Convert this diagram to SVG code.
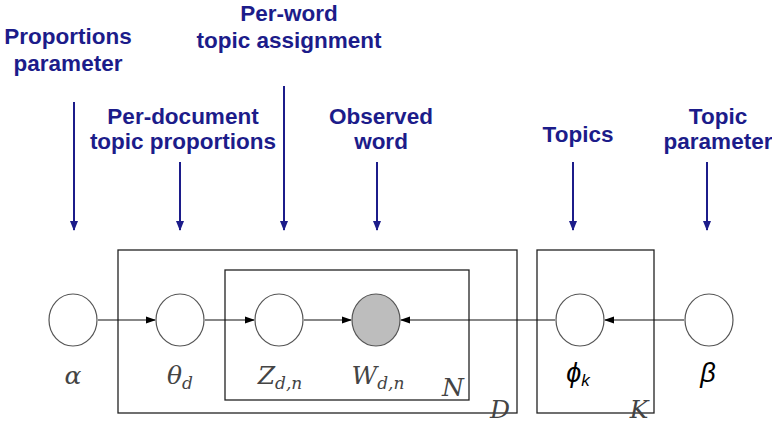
<svg xmlns="http://www.w3.org/2000/svg" width="772" height="446" viewBox="0 0 772 446">
<style>
.lab{font-family:"Liberation Sans",Arial,sans-serif;font-weight:bold;font-size:22.5px;fill:#1c1c8a;text-anchor:middle}
.ann{stroke:#1c1c8a;stroke-width:2;fill:none}
.node{fill:#fff;stroke:#555;stroke-width:1.2}
.obs{fill:#bdbdbd;stroke:#555;stroke-width:1.2}
.plate{fill:none;stroke:#222;stroke-width:1.3}
.edge{stroke:#111;stroke-width:1.2;fill:none}
.m{font-family:"DejaVu Serif","Liberation Serif",serif;font-style:italic;font-size:25px;fill:#444;text-anchor:middle}
.s{font-size:17px}
.g{font-family:"Liberation Sans",Arial,sans-serif;font-style:italic;font-size:27px;fill:#000;text-anchor:middle}
</style>
<defs>
<marker id="ab" markerWidth="10" markerHeight="10" refX="9" refY="5" orient="auto" markerUnits="userSpaceOnUse"><path d="M0,1 L10,5 L0,9 Z" fill="#1c1c8a"/></marker>
<marker id="ak" markerWidth="10" markerHeight="10" refX="9" refY="5" orient="auto" markerUnits="userSpaceOnUse"><path d="M0,1.5 L10,5 L0,8.5 Z" fill="#000"/></marker>
</defs>
<g id="annotations">
<text class="lab" x="68" y="44">Proportions</text><text class="lab" x="68" y="71">parameter</text>
<text class="lab" x="289" y="21">Per-word</text><text class="lab" x="289" y="48">topic assignment</text>
<text class="lab" x="183" y="124">Per-document</text><text class="lab" x="183" y="149">topic proportions</text>
<text class="lab" x="381" y="124">Observed</text><text class="lab" x="381" y="149">word</text>
<text class="lab" x="578" y="142">Topics</text>
<text class="lab" x="718" y="124">Topic</text><text class="lab" x="718" y="149">parameter</text>
<line class="ann" x1="74" y1="102" x2="74" y2="230" marker-end="url(#ab)"/>
<line class="ann" x1="180" y1="162" x2="180" y2="230" marker-end="url(#ab)"/>
<line class="ann" x1="284" y1="86" x2="284" y2="230" marker-end="url(#ab)"/>
<line class="ann" x1="377" y1="162" x2="377" y2="230" marker-end="url(#ab)"/>
<line class="ann" x1="573" y1="162" x2="573" y2="230" marker-end="url(#ab)"/>
<line class="ann" x1="707" y1="162" x2="707" y2="230" marker-end="url(#ab)"/>
</g>
<g id="plates">
<rect class="plate" x="118" y="250" width="399" height="163"/>
<rect class="plate" x="225" y="270" width="244" height="130"/>
<rect class="plate" x="537" y="250" width="117" height="163"/>
<text class="m" x="453" y="396">N</text>
<text class="m" x="500" y="418">D</text>
<text class="m" x="639" y="418">K</text>
</g>
<g id="connectors">
<line class="edge" x1="98" y1="320" x2="155" y2="320" marker-end="url(#ak)"/>
<line class="edge" x1="205" y1="320" x2="254" y2="320" marker-end="url(#ak)"/>
<line class="edge" x1="304" y1="320" x2="351" y2="320" marker-end="url(#ak)"/>
<line class="edge" x1="555" y1="320" x2="401" y2="320" marker-end="url(#ak)"/>
<line class="edge" x1="684" y1="320" x2="605" y2="320" marker-end="url(#ak)"/>
</g>
<g id="alpha"><ellipse class="node" cx="73" cy="320" rx="24" ry="26"/><text class="m" x="73" y="384">α</text></g>
<g id="theta"><ellipse class="node" cx="180" cy="320" rx="24" ry="26"/><text class="m" x="180" y="384">θ<tspan class="s" dy="5">d</tspan></text></g>
<g id="z"><ellipse class="node" cx="279" cy="320" rx="24" ry="26"/><text class="m" x="280" y="384">Z<tspan class="s" dy="5">d,n</tspan></text></g>
<g id="w"><ellipse class="obs" cx="376" cy="320" rx="24" ry="26"/><text class="m" x="378" y="384">W<tspan class="s" dy="5">d,n</tspan></text></g>
<g id="phi"><ellipse class="node" cx="580" cy="320" rx="24" ry="26"/><text class="g" x="578" y="382">ϕ<tspan class="s" dy="4">k</tspan></text></g>
<g id="beta"><ellipse class="node" cx="709" cy="320" rx="24" ry="26"/><text class="g" x="708" y="382">β</text></g>
</svg>
